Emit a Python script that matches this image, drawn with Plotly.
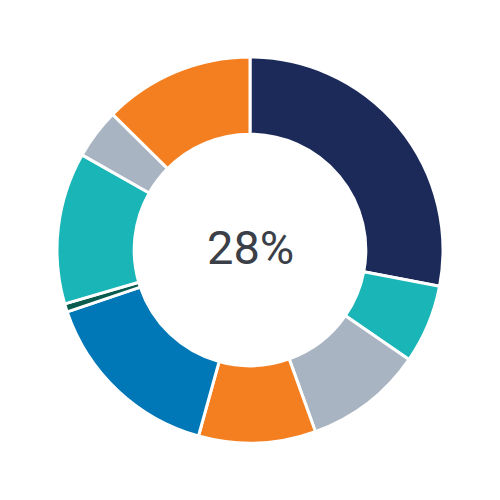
import plotly.graph_objects as go

# Slices in clockwise order from 12 o'clock
labels = ['A', 'B', 'C', 'D', 'E', 'F', 'G', 'H', 'I']
values = [28.0, 6.6, 9.9, 9.8, 15.5, 0.7, 12.7, 4.2, 12.6]
colors = ['#1c2a5a', '#1ab5b7', '#a9b4c2', '#f47f20', '#0077b6',
          '#0a5c4e', '#1ab5b7', '#a9b4c2', '#f47f20']
center_text = '28%'

fig = go.Figure(go.Pie(
    labels=labels,
    values=values,
    hole=0.6,
    sort=False,
    direction='clockwise',
    rotation=0,
    marker=dict(colors=colors, line=dict(color='white', width=3)),
    textinfo='none',
    hoverinfo='label+percent',
))

fig.add_annotation(text=center_text, x=0.5, y=0.5, xref='paper', yref='paper', yshift=3,
                   showarrow=False, font=dict(size=47, color='#3b3f48', family='Roboto'))

# page body has an 8px margin, so shift the plot area up/left to centre at 250,250
fig.update_layout(width=500, height=500, showlegend=False,
                  margin=dict(l=49, r=65, t=49, b=65),
                  paper_bgcolor='white', plot_bgcolor='white')

fig.write_html("out.html")
